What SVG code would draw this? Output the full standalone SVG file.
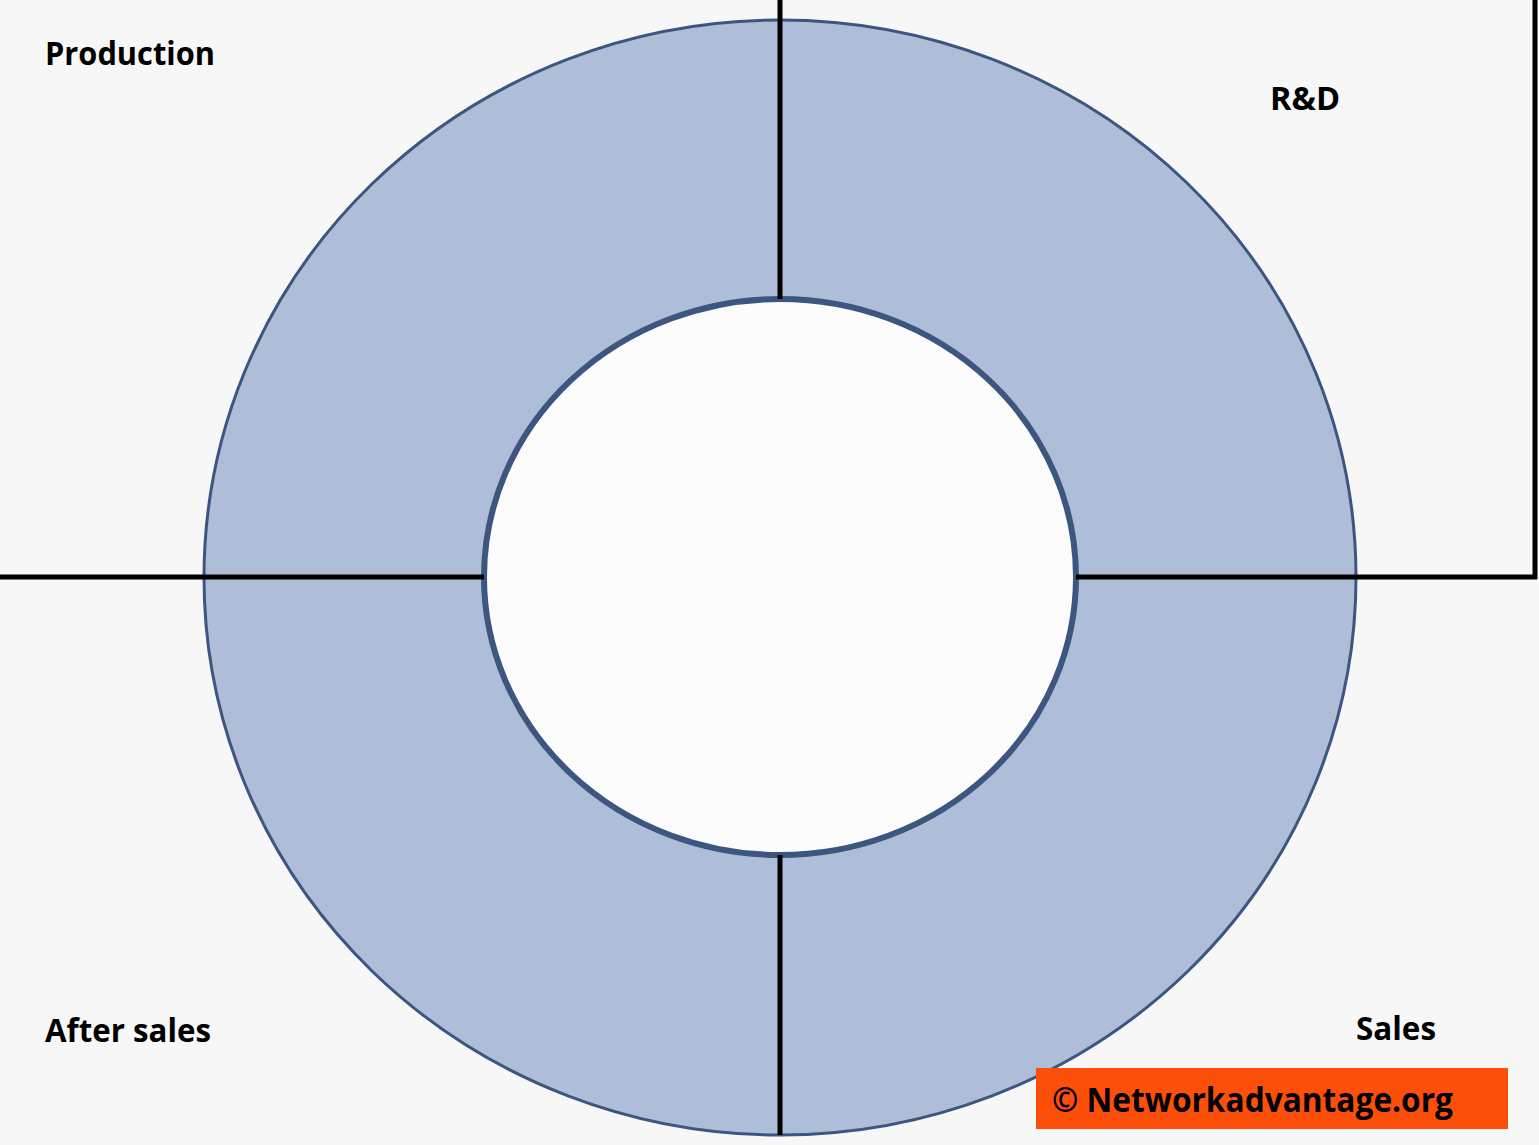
<svg xmlns="http://www.w3.org/2000/svg" width="1539" height="1145" viewBox="0 0 1539 1145">
<style>
.lbl{font-family:"Open Sans","Liberation Sans",sans-serif;font-weight:bold;font-size:32px;fill:#000}
.wm{font-size:34px}
.div{stroke:#000;stroke-width:5;fill:none}
</style>
<rect x="0" y="0" width="1539" height="1145" fill="#f8f7f7"/>
<g id="ring">
<ellipse cx="780" cy="577.5" rx="576" ry="557.5" fill="#aebdd8" stroke="#3c5680" stroke-width="3"/>
<ellipse cx="780" cy="577" rx="296" ry="278" fill="#fcfcfc" stroke="#3c5680" stroke-width="6"/>
</g>
<g id="connectors">
<line class="div" x1="780" y1="0" x2="780" y2="299"/>
<line class="div" x1="780" y1="855" x2="780" y2="1135"/>
<line class="div" x1="0" y1="577" x2="484" y2="577"/>
<line class="div" x1="1076" y1="577" x2="1537" y2="577"/>
<line class="div" x1="1535" y1="0" x2="1535" y2="579"/>
</g>
<g id="production"><text class="lbl" x="45" y="65" textLength="170" lengthAdjust="spacingAndGlyphs">Production</text></g>
<g id="rd"><text class="lbl" x="1270" y="110" textLength="70" lengthAdjust="spacingAndGlyphs">R&amp;D</text></g>
<g id="sales"><text class="lbl" x="1356" y="1040" textLength="80" lengthAdjust="spacingAndGlyphs">Sales</text></g>
<g id="aftersales"><text class="lbl" x="45" y="1042" textLength="166" lengthAdjust="spacingAndGlyphs">After sales</text></g>
<g id="watermark">
<rect x="1036" y="1068" width="472" height="61" fill="#fc4f0a"/>
<text class="lbl wm" x="1052" y="1112" textLength="401" lengthAdjust="spacingAndGlyphs">© Networkadvantage.org</text>
</g>
</svg>
